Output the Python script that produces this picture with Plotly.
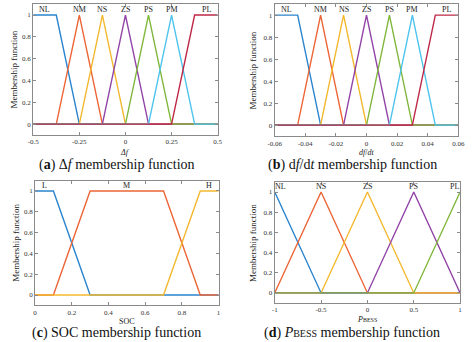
import plotly.graph_objects as go

# ---- data ----
colors = ["#2A84CE", "#EC6536", "#F3B82E", "#9143A6", "#80B73B", "#4CC4EE", "#BE2846"]

df_range = [-0.5, 0.5]
df_names = ["NL", "NM", "NS", "ZS", "PS", "PM", "PL"]
df_params = [[-0.5, -0.5, -0.375, -0.25], [-0.375, -0.25, -0.25, -0.125],
             [-0.25, -0.125, -0.125, 0], [-0.125, 0, 0, 0.125],
             [0, 0.125, 0.125, 0.25], [0.125, 0.25, 0.25, 0.375],
             [0.25, 0.375, 0.5, 0.5]]
df_label_x = [-0.4375, -0.25, -0.125, 0, 0.125, 0.25, 0.4375]
df_ticks = [-0.5, -0.25, 0, 0.25, 0.5]
df_ticktext = ["-0.5", "-0.25", "0", "0.25", "0.5"]

dfdt_range = [-0.06, 0.06]
dfdt_names = ["NL", "NM", "NS", "ZS", "PS", "PM", "PL"]
dfdt_params = [[-0.06, -0.06, -0.045, -0.03], [-0.045, -0.03, -0.03, -0.015],
               [-0.03, -0.015, -0.015, 0], [-0.015, 0, 0, 0.015],
               [0, 0.015, 0.015, 0.03], [0.015, 0.03, 0.03, 0.045],
               [0.03, 0.045, 0.06, 0.06]]
dfdt_label_x = [-0.0525, -0.03, -0.015, 0, 0.015, 0.03, 0.0525]
dfdt_ticks = [-0.06, -0.04, -0.02, 0, 0.02, 0.04, 0.06]
dfdt_ticktext = ["-0.06", "-0.04", "-0.02", "0", "0.02", "0.04", "0.06"]

soc_range = [0, 1]
soc_names = ["L", "M", "H"]
soc_params = [[0, 0, 0.1, 0.3], [0.1, 0.3, 0.7, 0.9], [0.7, 0.9, 1, 1]]
soc_label_x = [0.05, 0.5, 0.95]
soc_ticks = [0, 0.2, 0.4, 0.6, 0.8, 1]
soc_ticktext = ["0", "0.2", "0.4", "0.6", "0.8", "1"]

p_range = [-1, 1]
p_names = ["NL", "NS", "ZS", "PS", "PL"]
p_params = [[-1, -1, -1, -0.5], [-1, -0.5, -0.5, 0], [-0.5, 0, 0, 0.5],
            [0, 0.5, 0.5, 1], [0.5, 1, 1, 1]]
p_label_x = [-0.94, -0.5, 0, 0.5, 0.94]
p_ticks = [-1, -0.5, 0, 0.5, 1]
p_ticktext = ["-1", "-0.5", "0", "0.5", "1"]

y_ticks = [0, 0.2, 0.4, 0.6, 0.8, 1]
y_ticktext = ["0", "0.2", "0.4", "0.6", "0.8", "1"]


def trapmf(x, a, b, c, d):
    if x < a or x > d:
        return 0.0
    if b <= x <= c:
        return 1.0
    if x < b:
        return (x - a) / (b - a)
    return (d - x) / (d - c)


def mf_points(p, rng):
    xs = sorted(set([rng[0], rng[1]] + [v for v in p if rng[0] <= v <= rng[1]]))
    return xs, [trapmf(v, *p) for v in xs]


panels = [
    dict(rng=df_range, names=df_names, params=df_params, lx=df_label_x,
         ticks=df_ticks, tt=df_ticktext, dom_x=[0.057, 0.458], dom_y=[0.605, 0.988]),
    dict(rng=dfdt_range, names=dfdt_names, params=dfdt_params, lx=dfdt_label_x,
         ticks=dfdt_ticks, tt=dfdt_ticktext, dom_x=[0.582, 0.981], dom_y=[0.602, 0.988]),
    dict(rng=soc_range, names=soc_names, params=soc_params, lx=soc_label_x,
         ticks=soc_ticks, tt=soc_ticktext, dom_x=[0.061, 0.460], dom_y=[0.107, 0.472]),
    dict(rng=p_range, names=p_names, params=p_params, lx=p_label_x,
         ticks=p_ticks, tt=p_ticktext, dom_x=[0.582, 0.985], dom_y=[0.114, 0.468]),
]

fig = go.Figure()
serif = "Liberation Serif"
axcol = "#8a8a8a"
annotations = []
layout = {}
for i, pn in enumerate(panels):
    k = "" if i == 0 else str(i + 1)
    for j, p in enumerate(pn["params"]):
        xs, ys = mf_points(p, pn["rng"])
        fig.add_trace(go.Scatter(x=xs, y=ys, mode="lines", xaxis="x" + k, yaxis="y" + k,
                                 line=dict(color=colors[j], width=1.4), showlegend=False,
                                 hoverinfo="skip"))
        annotations.append(dict(x=pn["lx"][j], y=1.05, xref="x" + k, yref="y" + k,
                                xanchor="center", yanchor="middle",
                                text=pn["names"][j], showarrow=False,
                                font=dict(family=serif, size=8, color="#222")))
    common = dict(showline=True, linecolor=axcol, linewidth=1, mirror="ticks",
                  ticks="inside", ticklen=3, tickcolor=axcol, showgrid=False,
                  zeroline=False, tickfont=dict(family=serif, size=7, color="#333"))
    layout["xaxis" + k] = dict(domain=pn["dom_x"], range=pn["rng"], anchor="y" + k,
                               tickvals=pn["ticks"], ticktext=pn["tt"], **common)
    layout["yaxis" + k] = dict(domain=pn["dom_y"], range=[-0.1, 1.1], anchor="x" + k,
                               tickvals=y_ticks, ticktext=y_ticktext, **common)

# axis titles
ytitle_x = [7 / 474, 254 / 474, 9 / 474, 254 / 474]
for i, pn in enumerate(panels):
    annotations.append(dict(x=ytitle_x[i], y=sum(pn["dom_y"]) / 2, xref="paper", yref="paper",
                            xanchor="center", yanchor="middle",
                            text="Membership function", textangle=-90, showarrow=False,
                            font=dict(family=serif, size=9, color="#222")))

xtitles = ["<i>Δf</i>", "<i>df</i>/<i>dt</i>", "SOC",
           "<i>P</i><span style='font-size:6px'>BESS</span>"]
xtitle_y = [1 - 152 / 342, 1 - 152 / 342, 1 - 321 / 342, 1 - 319 / 342]
for i, pn in enumerate(panels):
    annotations.append(dict(x=sum(pn["dom_x"]) / 2, y=xtitle_y[i], xref="paper", yref="paper",
                            xanchor="center", yanchor="middle",
                            text=xtitles[i], showarrow=False,
                            font=dict(family=serif, size=8, color="#222")))

captions = ["(<b>a</b>) Δ<i>f</i> membership function",
            "(<b>b</b>) d<i>f</i>/d<i>t</i> membership function",
            "(<b>c</b>) SOC membership function",
            "(<b>d</b>) <i>P</i><span style='font-size:10px'>BESS</span> membership function"]
cap_x = [113 / 474, 356 / 474, 113 / 474, 356 / 474]
cap_y = [1 - 165 / 342, 1 - 165 / 342, 1 - 333 / 342, 1 - 333 / 342]
for i in range(4):
    annotations.append(dict(x=cap_x[i], y=cap_y[i], xref="paper", yref="paper",
                            xanchor="center", yanchor="middle",
                            text=captions[i], showarrow=False,
                            font=dict(family=serif, size=14, color="#111")))

fig.update_layout(width=474, height=342, margin=dict(l=0, r=0, t=0, b=0),
                  paper_bgcolor="white", plot_bgcolor="white",
                  annotations=annotations, **layout)
fig.write_html("out.html")
